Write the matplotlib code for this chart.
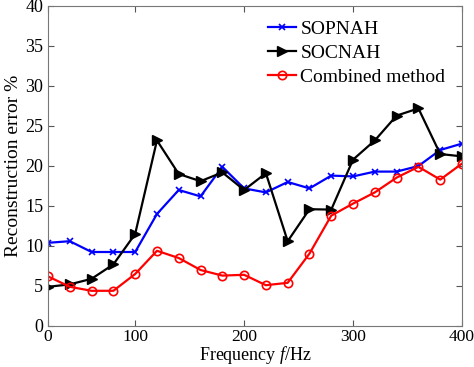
import matplotlib
matplotlib.use("Agg")
import matplotlib.pyplot as plt

freq = [20, 40, 60, 80, 100, 120, 140, 160, 180, 200, 220, 240, 260, 280, 300, 320, 340, 360, 380, 400]
sopnah = [10.4, 10.6, 9.25, 9.25, 9.25, 14.0, 17.0, 16.2, 19.9, 17.2, 16.7, 18.0, 17.2, 18.8, 18.7, 19.3, 19.3, 20.0, 22.0, 22.8]
socnah = [4.9, 5.2, 5.9, 7.7, 11.5, 23.2, 19.0, 18.1, 19.2, 17.0, 19.1, 10.6, 14.6, 14.55, 20.8, 23.2, 26.3, 27.2, 21.5, 21.2]
combined = [6.2, 4.9, 4.4, 4.4, 6.5, 9.4, 8.5, 7.0, 6.3, 6.4, 5.1, 5.4, 9.05, 13.8, 15.3, 16.7, 18.55, 19.9, 18.3, 20.3]
xtick_vals = [20, 100, 200, 300, 400]
xtick_labels = ['0', '100', '200', '300', '400']
ytick_vals = [0, 5, 10, 15, 20, 25, 30, 35, 40]

plt.rcParams['font.family'] = ['Liberation Serif', 'DejaVu Serif']
plt.rcParams['mathtext.fontset'] = 'custom'
plt.rcParams['mathtext.it'] = 'Liberation Serif:italic'
plt.rcParams['mathtext.rm'] = 'Liberation Serif'

fig = plt.figure(figsize=(4.74, 3.67), dpi=100)
ax = fig.add_axes([48/474, 1-326/367, (462-48)/474, (326-6)/367])

ax.plot(freq, sopnah, color='#0000ff', marker='x', markersize=4, markeredgewidth=1.2, linewidth=1.6, label='SOPNAH')
ax.plot(freq, socnah, color='black', marker='>', markersize=7, linewidth=1.6, label='SOCNAH')
ax.plot(freq, combined, color='#ff0000', marker='o', markersize=6, markerfacecolor='none', markeredgewidth=1.2, linewidth=1.6, label='Combined method')

ax.set_xlim(20, 400)
ax.set_ylim(0, 40)
ax.set_xticks(xtick_vals)
ax.set_xticklabels(xtick_labels)
ax.set_yticks(ytick_vals)
ax.tick_params(direction='in', top=True, right=True, labelsize=13, length=4, colors='#555555', labelcolor='black')
ax.tick_params(axis='x', pad=2, labelsize=12.5)
for s in ax.spines.values():
    s.set_color('#777777')
    s.set_linewidth(0.8)

ax.set_xlabel('Frequency $f$/Hz', fontsize=13)
ax.xaxis.label.set_verticalalignment('bottom')
ax.xaxis.set_label_coords(0.5, -0.124)
ax.set_ylabel('Reconstruction error %', fontsize=14, labelpad=2)

leg = ax.legend(loc='upper left', bbox_to_anchor=(0.532, 0.955), frameon=False, fontsize=14,
                handlelength=1.45, handletextpad=0.2, labelspacing=0.32, borderaxespad=0,
                borderpad=0)

fig.savefig('out.png', dpi=100)
